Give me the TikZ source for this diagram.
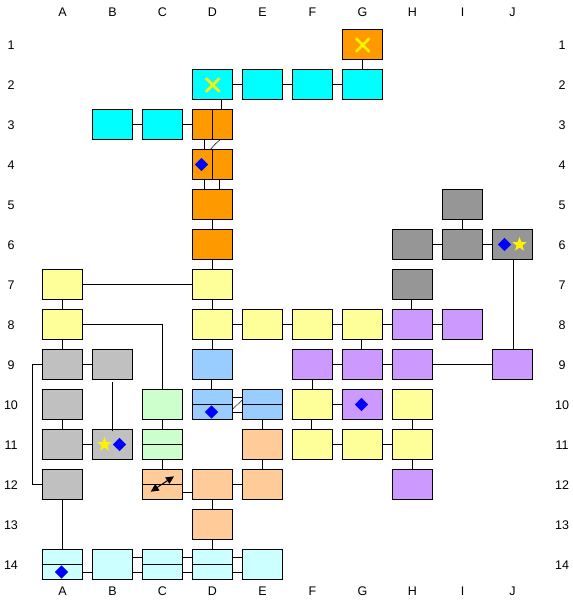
\documentclass[tikz,border=0pt]{standalone}
\usepackage{fontspec}
\setmainfont{Liberation Sans}
\usetikzlibrary{shapes.geometric,shapes.misc,arrows.meta}
\definecolor{cy}{HTML}{00FFFF}
\definecolor{orn}{HTML}{FF9900}
\definecolor{dg}{HTML}{969696}
\definecolor{yl}{HTML}{FFFF99}
\definecolor{pu}{HTML}{CC99FF}
\definecolor{lg}{HTML}{C0C0C0}
\definecolor{bl}{HTML}{99CCFF}
\definecolor{gr}{HTML}{CCFFCC}
\definecolor{pe}{HTML}{FFCC99}
\definecolor{lc}{HTML}{CCFFFF}
\tikzset{
  x=1pt,y=-1pt,
  room/.style={draw=black,line width=1pt,minimum width=40pt,minimum height=30pt,inner sep=0pt,fill=#1},
  link/.style={draw=black,line width=1pt},
  diag/.style={draw=black,line width=0.8pt,dash pattern=on 1pt off 0.6pt},
  axis/.style={font=\fontsize{12.5}{12.5}\selectfont,inner sep=0pt,text=black},
  gem/.style={diamond,fill=blue,minimum width=13.5pt,minimum height=13.5pt,inner sep=0pt},
  starmark/.style={star,star points=5,star point ratio=2.4,fill=yellow,minimum size=15pt,inner sep=0pt},
  crossmark/.style={cross out,draw=yellow,line width=2.6pt,minimum width=11pt,minimum height=11pt,inner sep=0pt},
}
\begin{document}
\begin{tikzpicture}
\useasboundingbox (0,0) rectangle (572,609);
% axis labels
\foreach \l [count=\i from 0] in {A,B,C,D,E,F,G,H,I,J}{
  \node[axis] (top\l) at ({62.5+50*\i},12) {\l};
  \node[axis] (bot\l) at ({62.5+50*\i},591) {\l};
}
\foreach \r in {1,...,14}{
  \node[axis] (left\r) at (11,{45+40*(\r-1)}) {\r};
  \node[axis] (right\r) at (562,{45+40*(\r-1)}) {\r};
}
% rooms: name/column/row/colour
\foreach \n/\i/\r/\c in {
  G1/6/1/orn,
  D2/3/2/cy,E2/4/2/cy,F2/5/2/cy,G2/6/2/cy,
  B3/1/3/cy,C3/2/3/cy,D3/3/3/orn,
  D4/3/4/orn,
  D5/3/5/orn,I5/8/5/dg,
  D6/3/6/orn,H6/7/6/dg,I6/8/6/dg,J6/9/6/dg,
  A7/0/7/yl,D7/3/7/yl,H7/7/7/dg,
  A8/0/8/yl,D8/3/8/yl,E8/4/8/yl,F8/5/8/yl,G8/6/8/yl,H8/7/8/pu,I8/8/8/pu,
  A9/0/9/lg,B9/1/9/lg,D9/3/9/bl,F9/5/9/pu,G9/6/9/pu,H9/7/9/pu,J9/9/9/pu,
  A10/0/10/lg,C10/2/10/gr,D10/3/10/bl,E10/4/10/bl,F10/5/10/yl,G10/6/10/pu,H10/7/10/yl,
  A11/0/11/lg,B11/1/11/lg,C11/2/11/gr,E11/4/11/pe,F11/5/11/yl,G11/6/11/yl,H11/7/11/yl,
  A12/0/12/lg,C12/2/12/pe,D12/3/12/pe,E12/4/12/pe,H12/7/12/pu,
  D13/3/13/pe,
  A14/0/14/lc,B14/1/14/lc,C14/2/14/lc,D14/3/14/lc,E14/4/14/lc}{
  \node[room=\c] (\n) at ({62.5+50*\i},{44.5+40*(\r-1)}) {};
}
% room dividers
\foreach \n in {D3,D4}{\draw[link] (\n.north) -- (\n.south);}
\foreach \n in {D10,E10,C11,C12,A14,C14,D14}{\draw[link] (\n.west) -- (\n.east);}
% straight connectors
\foreach \a/\b in {
  G1/G2,D2/E2,E2/F2,F2/G2,B3/C3,C3/D3,D5/D6,D6/D7,D7/D8,D8/D9,
  I5/I6,H6/I6,I6/J6,A7/D7,A7/A8,A8/A9,A9/B9,A10/A11,A11/B11,
  D8/E8,E8/F8,F8/G8,G8/H8,H8/I8,F9/G9,G9/H9,H9/J9,
  F10/G10,F11/G11,G11/H11,H10/H11,H11/H12,
  C10/C11,C11/C12,D12/E12,E11/E12,E10/E11,D12/D13,D13/D14,A12/A14}{
  \draw[link] (\a) -- (\b);
}
% offset vertical connectors
\foreach \a/\b/\d in {
  D2/D3/9,D3/D4/-8,D4/D5/-8,D4/D5/7,D9/D10/-1,
  G8/G9/-1,H7/H8/-1,F9/F10/0,F10/F11/-1,J6/J9/1}{
  \draw[link] ([xshift=\d pt]\a.south) -- ([xshift=\d pt]\b.north);
}
\draw[link] ([yshift=-2pt]B9.south) -- ([yshift=-2pt]B11.north);
% offset horizontal connectors
\foreach \a/\b/\d in {
  D10/E10/-7.5,D10/E10/7.5,C12/D12/7.5,A14/B14/7.5,
  B14/C14/-7.5,B14/C14/7.5,C14/D14/-7.5,C14/D14/7.5,D14/E14/-7.5,D14/E14/7.5}{
  \draw[link] ([yshift=-\d pt]\a.east) -- ([yshift=-\d pt]\b.west);
}
% routed connectors
\coordinate (busT) at (32.5,364.5);
\coordinate (busB) at (32.5,484.5);
\draw[link] (A9.west) -- (busT) -- (busB) -- (A12.west);
\draw[link] (A8.east) -| (C10.north);
% diagonal stairs
\draw[diag] ([xshift=7pt]D3.south) -- ([xshift=-2pt]D4.north);
\draw[diag] ([yshift=-4pt]D10.east) -- ([yshift=4pt]E10.west);
% two-way arrow
\coordinate (arrA) at (150.7,491.7);
\coordinate (arrB) at (174,476.3);
\draw[black,line width=1pt,{Triangle[length=8pt,width=7.5pt]}-{Triangle[length=8pt,width=7.5pt]}] (arrA) -- (arrB);
% markers
\node[crossmark] (x1) at (362.7,45) {};
\node[crossmark] (x2) at (212.7,85) {};
\node[gem] (g1) at (201.5,164.5) {};
\node[gem] (g2) at (504.5,244.5) {};
\node[starmark] (s1) at (519.5,244.5) {};
\node[gem] (g3) at (361.5,404.5) {};
\node[gem] (g4) at (211.5,412) {};
\node[starmark] (s2) at (104.5,444.5) {};
\node[gem] (g5) at (119.5,444.5) {};
\node[gem] (g6) at (61.5,572) {};
\end{tikzpicture}
\end{document}
